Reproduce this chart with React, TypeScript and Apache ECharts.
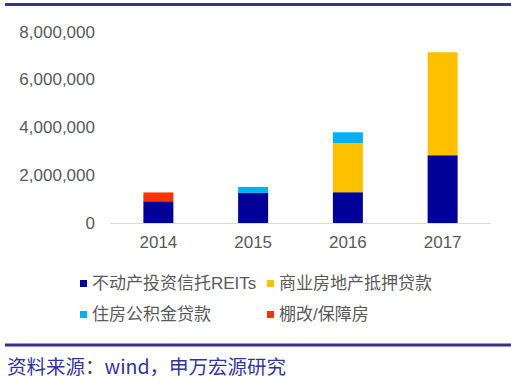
import React, { useEffect, useRef } from "react";
import * as echarts from "echarts";

const categories = ["2014", "2015", "2016", "2017"];
const seriesNames = ["不动产投资信托REITs", "商业房地产抵押贷款", "住房公积金贷款", "棚改/保障房"];
const reits = [910000, 1260000, 1290000, 2840000];
const commercial = [null, null, 2060000, 4310000];
const housingFund = [null, 250000, 450000, null];
const shantytown = [370000, null, null, null];
const colors = ["#000099", "#FFC000", "#00B0F0", "#FF3300"];
const yTicks = [0, 2000000, 4000000, 6000000, 8000000];
const sourceText = "资料来源：wind，申万宏源研究";

const FONT = "'Liberation Sans', Arial, 'Noto Sans CJK SC', sans-serif";

export default function App() {
  const ref = useRef<HTMLDivElement>(null);
  useEffect(() => {
    document.body.style.margin = "0";
    const chart = echarts.init(ref.current!, null, { renderer: "svg" });
    const data = [reits, commercial, housingFund, shantytown];
    const legendPos = [
      { left: 80, top: 275 },
      { left: 267, top: 275 },
      { left: 80, top: 306 },
      { left: 267, top: 306 },
    ];
    chart.setOption({
      animation: false,
      color: colors,
      grid: { left: 111, right: 21, top: 32, bottom: 158, containLabel: false },
      xAxis: {
        type: "category",
        data: categories,
        axisLine: { lineStyle: { color: "#D9D9D9", width: 1 } },
        axisTick: { show: false },
        axisLabel: { color: "#595959", fontSize: 17, fontFamily: FONT, margin: 11 },
      },
      yAxis: {
        type: "value",
        min: yTicks[0],
        max: yTicks[yTicks.length - 1],
        interval: yTicks[1] - yTicks[0],
        splitLine: { show: false },
        axisLine: { show: false },
        axisTick: { show: false },
        axisLabel: {
          color: "#595959",
          fontSize: 17,
          fontFamily: FONT,
          margin: 16,
          formatter: (v: number) => v.toLocaleString("en-US"),
        },
      },
      legend: seriesNames.map((n, i) => ({
        data: [n],
        left: legendPos[i].left,
        top: legendPos[i].top,
        padding: 0,
        icon: "rect",
        itemWidth: 7,
        itemHeight: 7,
        itemGap: 0,
        textStyle: { color: "#595959", fontSize: 17, fontFamily: FONT, padding: [0, 0, 0, 0] },
      })),
      series: seriesNames.map((n, i) => ({
        name: n,
        type: "bar",
        stack: "total",
        barWidth: 30,
        data: data[i],
        itemStyle: { color: colors[i] },
      })),
      graphic: [
        { type: "line", shape: { x1: 5, y1: 4.5, x2: 511, y2: 4.5 }, style: { stroke: "#333399", lineWidth: 3 } },
        { type: "line", shape: { x1: 5, y1: 345, x2: 511, y2: 345 }, style: { stroke: "#333399", lineWidth: 3 } },
        {
          type: "text",
          left: 7,
          top: 356,
          style: {
            text: sourceText,
            fill: "#333399",
            fontSize: 19.5,
            fontFamily: "'Noto Sans CJK SC', sans-serif",
          },
        },
      ],
    });
    return () => chart.dispose();
  }, []);
  return <div ref={ref} style={{ width: 511, height: 381 }} />;
}
